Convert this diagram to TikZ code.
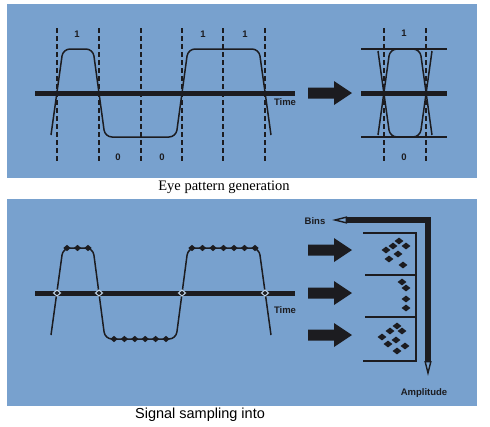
\documentclass[tikz,border=0pt]{standalone}
\usepackage{fontspec}
\setmainfont{Liberation Serif}
\setsansfont{Liberation Sans}
\usetikzlibrary{arrows.meta,shapes.geometric}
\definecolor{panel}{RGB}{120,161,206}
\definecolor{ink}{RGB}{28,28,32}

\begin{document}
\begin{tikzpicture}[x=1pt, y=-1pt, >=Stealth,
        wave/.style={ink, line width=1.5pt, rounded corners=7pt},
        grid/.style={ink, line width=2pt, dash pattern=on 5pt off 3pt},
        axis/.style={ink, line width=5pt},
        rule/.style={ink, line width=1.6pt},
        lbl/.style={font=\sffamily\bfseries\fontsize{9.5}{10}\selectfont, text=ink, inner sep=0pt},
        sample/.style={diamond, fill=ink, inner sep=0pt, minimum width=7.5pt, minimum height=6.5pt},
        crossing/.style={sample, draw=white!55!panel, line width=1pt},
        binmark/.style={sample, minimum width=9pt, minimum height=7pt},
        binaxis/.style={ink, line width=5.5pt, line join=miter,
                {Triangle[open, length=15pt, width=7pt, line width=1.4pt]}-{Triangle[open, length=15pt, width=7pt, line width=1.4pt]}}]
        \useasboundingbox (0,0) rectangle (490,426);
        \fill [panel] (7,4) rectangle (477,178);
        \fill [panel] (7,199) rectangle (477,406);

        \foreach \x in {57, 99, 141, 182, 223, 265}{
                \draw [grid] (\x,28) -- (\x,162);
            }
        \draw [axis] (35,93) -- (295,93);
        \draw [wave] (51,135) -- (63,49) -- (93,49) -- (105,137) -- (176,137) -- (188,49) -- (259,49) -- (271,135);
        \node [lbl] (one1) at (77,34) {1};
        \node [lbl] (one2) at (203,34) {1};
        \node [lbl] (one3) at (245,34) {1};
        \node [lbl] (zero1) at (118,157) {0};
        \node [lbl] (zero2) at (162,157) {0};
        \node [lbl] (timetop) at (285,102) {Time};

        \fill [ink] (308,87.5) -- (334,87.5) -- (334,81) -- (352,93) -- (334,105) -- (334,98.5) -- (308,98.5) -- cycle;

        \foreach \x in {384, 426}{
                \draw [grid] (\x,28) -- (\x,162);
            }
        \draw [rule] (361,49) -- (447,49);
        \draw [rule] (361,137) -- (447,137);
        \draw [axis] (361,93) -- (447,93);
        \draw [wave] (378,135) -- (390,49) -- (420,49) -- (432,135);
        \draw [wave] (378,51) -- (390,137) -- (420,137) -- (432,51);
        \node [lbl] (eyeone) at (404,33) {1};
        \node [lbl] (eyezero) at (404,157) {0};

        \node [text=black, font=\fontsize{14.5}{16}\selectfont, inner sep=0pt] (captop) at (224,187) {Eye pattern generation};

        \draw [axis] (35,293) -- (295,293);
        \draw [wave] (51,335) -- (63,248) -- (93,248) -- (105,339) -- (176,339) -- (188,248) -- (259,248) -- (271,335);
        \foreach \i in {0, 1, 2}{
                \node [sample] (hia-\i) at ({67+10.5*\i},248) {};
            }
        \foreach \i in {0, ..., 5}{
                \node [sample] (lo-\i) at ({114+10.4*\i},339) {};
            }
        \foreach \i in {0, ..., 6}{
                \node [sample] (hib-\i) at ({192+10.5*\i},248) {};
            }
        \foreach \x in {57, 99, 182, 265}{
                \node [crossing] (cr-\x) at (\x,293) {};
            }
        \node [lbl] (timebot) at (285,310) {Time};

        \foreach \y in {250, 293, 335}{
                \fill [ink] (308,{\y-5.5}) -- (334,{\y-5.5}) -- (334,{\y-12}) -- (352,\y) -- (334,{\y+12}) -- (334,{\y+5.5}) -- (308,{\y+5.5}) -- cycle;
            }

        \node [lbl] (bins) at (315,221) {Bins};
        \node [lbl] (amp) at (424,393) {Amplitude};
        \coordinate (binsend) at (332,220);
        \coordinate (ampend) at (428,376);
        \draw [binaxis] (binsend) -| (ampend);

        \draw [rule] (363,233) -- (416,233) -- (416,361) -- (363,361);
        \draw [rule] (365,275) -- (416,275);
        \draw [rule] (365,317) -- (416,317);

        \foreach \x/\y [count=\i] in {399/241, 393/246, 406/246, 386/250, 398/254, 389/259, 403/265}{
                \node [binmark] (bina-\i) at (\x,\y) {};
            }
        \foreach \x/\y [count=\i] in {402/282, 406/288, 406/299, 406/308}{
                \node [binmark] (binb-\i) at (\x,\y) {};
            }
        \foreach \x/\y [count=\i] in {397/326, 390/331, 402/331, 382/337, 396/340, 388/344, 405/346, 397/351}{
                \node [binmark] (binc-\i) at (\x,\y) {};
            }

        \node [text=black, font=\sffamily\fontsize{14.5}{16}\selectfont, inner sep=0pt] (capbot) at (200,415) {Signal sampling into};
    \end{tikzpicture}
\end{document}
